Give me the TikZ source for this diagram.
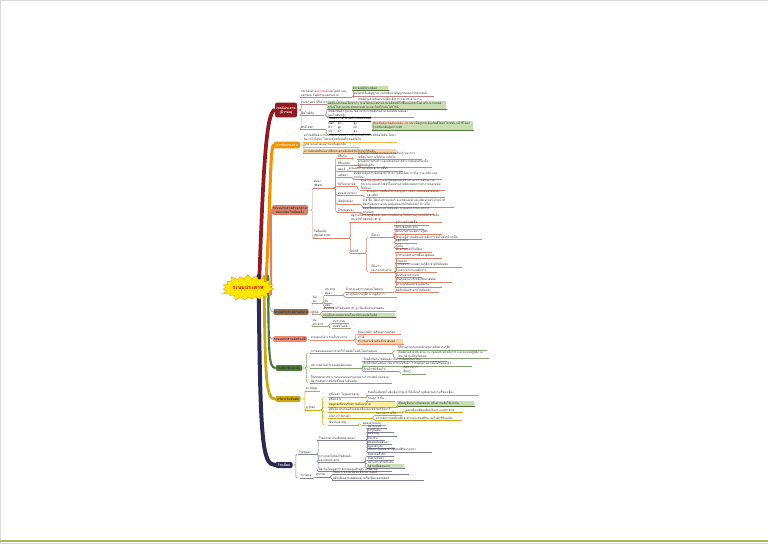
\documentclass[tikz,border=0pt]{standalone}
\usepackage{fontspec}
\setmainfont[Script=Thai]{Loma}
\XeTeXlinebreaklocale "th"
\usetikzlibrary{shapes.symbols}

\definecolor{redd}{HTML}{8E1C22}
\definecolor{orng}{HTML}{F39200}
\definecolor{salm}{HTML}{D9826A}
\definecolor{brwn}{HTML}{8C6D4F}
\definecolor{corl}{HTML}{EE8A76}
\definecolor{grn}{HTML}{4F7A3B}
\definecolor{olv}{HTML}{CDA814}
\definecolor{navy}{HTML}{2B2B52}
\definecolor{hlgreen}{HTML}{C9DDB3}
\definecolor{hlyel}{HTML}{FFF0A0}
\definecolor{hlorg}{HTML}{FAD3A4}
\definecolor{limegr}{HTML}{A9C77F}

\newcommand\leaffont{\fontsize{2.2}{3.0}\selectfont}
\newcommand\topicfont{\fontsize{2.5}{3.0}\selectfont\bfseries}
\newcommand\hubfont{\fontsize{4}{5}\selectfont\bfseries}
\setlength\arrayrulewidth{0.2pt}

\tikzset{
  leaf/.style={anchor=south west, inner sep=0.4pt, font=\leaffont, align=left, text=black!85,
    append after command={(\tikzlastnode.south west) edge[draw=#1, line width=0.3pt] (\tikzlastnode.south east)}},
  tw/.style={text width=#1*0.75pt},
  link/.style={draw=#1, line width=0.3pt, rounded corners=1pt},
  topic/.style={fill=#1, rounded corners=1.5pt, inner sep=0.6pt, font=\topicfont, align=center},
  limb/.style={draw=#1, line cap=round},
}

\begin{document}
\begin{tikzpicture}[x=0.75pt, y=-0.75pt]
  \useasboundingbox (0,0) rectangle (768,543);
  \draw[gray!30] (0,0) rectangle (768,543);
  \draw[limegr!80!olive, line width=0.8pt] (0,541) -- (768,541);

  \coordinate (h) at (248,288);

  % main topics
  \node[topic=redd, text=white, minimum width=16.5pt, minimum height=11pt] (r) at (286,110) {เซลล์ประสาท\\(นิวรอน)};
  \node[topic=orng, text=white, minimum width=19.5pt, minimum height=5pt] (o) at (287,145) {สารสื่อประสาท};
  \node[topic=salm, text=black!80, minimum width=23pt, minimum height=7.5pt] (s) at (290,210) {ระบบประสาทส่วนกลาง/\\สมองและไขสันหลัง};
  \node[topic=brwn, text=black!80, minimum width=24pt, minimum height=4.5pt] (b) at (291,312) {ระบบประสาทส่วนปลาย};
  \node[topic=corl, text=black!80, minimum width=23pt, minimum height=4.5pt] (c) at (290,339) {ระบบประสาทอัตโนมัติ};
  \node[topic=grn, text=black!80, minimum width=20pt, minimum height=4.5pt] (g) at (289,368) {รีเฟล็กซ์แอกชัน};
  \node[topic=olv, text=black!80, minimum width=19pt, minimum height=4.5pt] (y) at (288,399) {อวัยวะรับสัมผัส};
  \node[topic=navy, text=white, minimum width=13pt, minimum height=4.5pt] (n) at (284,465) {โรคที่พบ};

  % limbs from the hub
  \draw[limb=redd, line width=2.8pt] ([xshift=8,yshift=-8]h) .. controls (263,170) and (266,112) .. (r.west);
  \draw[limb=orng, line width=2.3pt] ([xshift=13,yshift=-6]h) .. controls (271,190) and (270,147) .. (o.west);
  \draw[limb=salm, line width=1.8pt] ([xshift=17,yshift=-5]h) .. controls (272,235) and (269,212) .. (s.west);
  \draw[limb=limegr, line width=0.7pt] ([xshift=17,yshift=8]h) .. controls (268,306) and (270,312) .. (b.west);
  \draw[limb=corl, line width=0.7pt] ([xshift=15,yshift=10]h) .. controls (267,330) and (268,339) .. (c.west);
  \draw[limb=grn, line width=1.6pt] ([xshift=15,yshift=9]h) .. controls (269,350) and (268,368) .. (g.west);
  \draw[limb=olv, line width=2.1pt] ([xshift=12,yshift=9]h) .. controls (265,380) and (266,399) .. (y.west);
  \draw[limb=navy, line width=3pt] ([xshift=8,yshift=9]h) .. controls (260,440) and (262,465) .. (n.west);

  \node[starburst, starburst points=19, starburst point height=4pt, fill=yellow!90!orange,
    draw=orange!80!yellow, line width=0.3pt, minimum width=30pt, minimum height=22pt,
    inner sep=0pt, font=\hubfont, text=red!85!black] (hub) at (h) {ระบบประสาท};

  % section 1
  \node[leaf=redd!55, tw=50] (r1) at (300,97) {ประกอบด้วย \textcolor{red}{ตัวเซลล์} เดนไดรต์ และแอกซอน รับส่งกระแสประสาท};
  \node[leaf=grn, tw=35, fill=hlgreen] (r1a) at (352,90) {ตัวเซลล์มีนิวเคลียส};
  \node[leaf=redd!55, tw=80] (r1b) at (352,96) {เดนไดรต์รับสัญญาณ แอกซอนนำสัญญาณออกจากตัวเซลล์};
  \node[leaf=redd!55, tw=53] (r2) at (300,104) {แบ่งตามหน้าที่ได้ 3 ชนิด ดังนี้};
  \node[leaf=redd!55, tw=78] (r2a) at (357,102) {เซลล์ประสาทรับความรู้สึก สั่งการ และประสานงาน};
  \node[leaf=redd!55, tw=22] (r3) at (300,115) {เยื่อไมอีลิน};
  \node[leaf=grn, tw=118, fill=hlgreen] (r3a) at (327,109) {ห่อหุ้มแอกซอนเป็นช่วง ๆ ช่วยให้กระแสประสาทเคลื่อนที่เร็วขึ้นแบบกระโดด สร้างจากเซลล์ชวันน์ในระบบประสาทส่วนปลาย และโอลิโกเดนโดรไซต์};
  \node[leaf=redd!55, tw=85] (r3b) at (327,117) {เซลล์เกลียค้ำจุนและให้อาหารแก่เซลล์ประสาท พบได้ทั้งในสมองและไขสันหลัง};
  \node[leaf=redd!55, tw=23] (r4) at (300,129) {ศักย์ไฟฟ้า};
  \node[anchor=south west, inner sep=0.3pt, font=\leaffont] (r4a) at (328,135) {\begin{tabular}{@{}l@{\,}l@{\,}l@{}}\hline ไอออน & ภายในเซลล์ & ภายนอกเซลล์\\\hline Na+ & ต่ำ & สูง\\ K+ & สูง & ต่ำ\\ Cl- & ต่ำ & สูง\\\hline\end{tabular}};
  \node[leaf=grn, tw=100, fill=hlgreen] (r4b) at (372,130) {\textcolor{red}{ศักย์เยื่อหุ้มเซลล์ขณะพัก -70 mV} เมื่อถูกกระตุ้นเกิดดีโพลาไรเซชัน แล้วรีโพลาไรเซชันกลับสู่สภาวะพัก};
  \foreach \c in {r1,r2,r3,r4}
    \draw[link=redd!55] (r.east) -- ++(4,0) |- (\c.south west);
  \foreach \c in {r1a,r1b}
    \draw[link=redd!55] (r1.south east) -- ++(2,0) |- (\c.south west);
  \draw[link=redd!55] (r2.south east) -- (r2a.south west);
  \foreach \c in {r3a,r3b}
    \draw[link=redd!55] (r3.south east) -- ++(3,0) |- (\c.south west);
  \draw[link=redd!55] (r4.south east) -- ++(2,0) |- (r4a.south west);
  \draw[link=redd!55] (r4a.east) -- ++(2,0) |- (r4b.south west);

  % section 2
  \node[leaf=orng!70, tw=92] (o1) at (303,142) {สารเคมีที่หลั่งจากปลายแอกซอนบริเวณไซแนปส์ เช่น แอซิทิลโคลีน โดพามีน เซโรโทนิน ไปกระตุ้นหรือยับยั้งเซลล์ถัดไป};
  \node[leaf=orng!70, tw=54] (o2) at (303,147) {ถูกทำลายด้วยเอนไซม์หรือดูดกลับ};
  \node[leaf=orng, tw=92, fill=hlorg] (o3) at (303,153) {ความผิดปกติของสารสื่อประสาทสัมพันธ์กับโรคพาร์กินสัน};
  \foreach \c in {o1,o2,o3}
    \draw[link=orng!70] (o.east) -- ++(4,0) |- (\c.south west);

  % section 3
  \node[leaf=salm, tw=19] (s1) at (313,188) {สมอง\\(Brain)};
  \node[leaf=salm, tw=13] (s1a) at (337,158) {ซีรีบรัม};
  \node[leaf=salm, tw=63] (s1a1) at (357,159) {ควบคุมความคิด ความจำ การเรียนรู้ และการเคลื่อนไหวภายใต้อำนาจจิตใจ};
  \node[leaf=salm, tw=21] (s1b) at (337,165) {ซีรีเบลลัม};
  \node[leaf=salm, tw=73] (s1b1) at (357,167) {ควบคุมการทรงตัว และประสานการทำงานของกล้ามเนื้อให้สัมพันธ์กัน};
  \node[leaf=salm, tw=9] (s1c) at (337,171) {พอนส์};
  \node[leaf=salm, tw=53] (s1c1) at (348,171) {ควบคุมการหายใจและการเคี้ยว};
  \node[leaf=salm, tw=13] (s1d) at (337,177) {เมดัลลา};
  \node[leaf=salm, tw=87] (s1d1) at (353,179) {ศูนย์ควบคุมการเต้นของหัวใจ ความดันเลือด การไอ จาม กลืน และอาเจียน};
  \node[leaf=salm, tw=18] (s1e) at (337,186) {ไฮโพทาลามัส};
  \node[leaf=salm, tw=83] (s1e1) at (360,190) {\textcolor{red}{ศูนย์รักษาดุลยภาพ} ควบคุมอุณหภูมิร่างกาย ความหิว ความกระหาย และสร้างฮอร์โมนประสาทที่ควบคุมการทำงานของต่อมใต้สมอง};
  \node[leaf=salm, tw=24] (s1f) at (337,195) {สมองส่วนกลาง};
  \node[leaf=salm, tw=77] (s1f1) at (366,197) {ควบคุมการเคลื่อนไหวของลูกตา และการตอบสนองต่อแสงและเสียง};
  \node[leaf=salm, tw=22] (s1g) at (337,204) {เยื่อหุ้มสมอง};
  \node[leaf=salm, tw=90] (s1g1) at (362,207) {มี 3 ชั้น ได้แก่ ดูราเมเทอร์ อะแรคนอยด์ และเพียเมเทอร์ ทำหน้าที่ป้องกันอันตรายและห่อหุ้มสมองกับไขสันหลังไว้ภายใน};
  \node[leaf=salm, tw=22] (s1h) at (337,212) {น้ำหล่อสมอง};
  \node[leaf=salm, tw=70] (s1h1) at (362,214) {หล่อเลี้ยงสมองและไขสันหลัง ช่วยลดแรงกระแทกจากภายนอก};
  \node[leaf=salm, tw=34] (s2) at (313,238) {ไขสันหลัง\\(Spinal cord)};
  \node[leaf=salm, tw=90] (s2a) at (350,222) {อยู่ภายในกระดูกสันหลัง ต่อจากเมดัลลาลงไปถึงกระดูกเอวข้อที่ 2 มีเส้นประสาทไขสันหลัง 31 คู่};
  \node[leaf=salm, tw=13] (s2b) at (350,253) {หน้าที่};
  \node[leaf=salm, tw=22] (s2b1) at (370,237) {เนื้อเทา};
  \node[leaf=salm, tw=32] (s2b1a) at (395,225) {รูปร่างคล้ายผีเสื้อ};
  \node[leaf=salm, tw=27] (s2b1b) at (395,229) {มีตัวเซลล์ประสาท};
  \node[leaf=salm, tw=45] (s2b1c) at (395,234) {ปีกบนรับกระแสความรู้สึก};
  \node[leaf=salm, tw=85] (s2b1d) at (395,239) {ปีกล่างมีตัวเซลล์ประสาทสั่งการ ส่งไปยังกล้ามเนื้อ};
  \node[leaf=salm, tw=20] (s2b1e) at (395,243) {อยู่ด้านใน};
  \node[leaf=salm, tw=11] (s2b1f) at (395,248) {ชั้นใน};
  \node[leaf=salm, tw=23] (s2b2) at (370,272) {เนื้อขาว\\และรากประสาท};
  \node[leaf=salm, tw=35] (s2b2a) at (395,252) {มีแอกซอนหุ้มไมอีลิน};
  \node[leaf=salm, tw=45] (s2b2b) at (395,258) {นำกระแสประสาทขึ้นลงสู่สมอง};
  \node[leaf=salm, tw=12] (s2b2c) at (395,263) {ด้านนอก};
  \node[leaf=salm, tw=65] (s2b2d) at (395,267) {รากบนนำกระแสความรู้สึกเข้าสู่ไขสันหลัง};
  \node[leaf=salm, tw=40] (s2b2e) at (395,272) {รากล่างนำกระแสสั่งการ};
  \node[leaf=salm, tw=25] (s2b2f) at (395,277) {ปมประสาทรากบน};
  \node[leaf=salm, tw=55] (s2b2g) at (395,282) {เป็นศูนย์กลางรีเฟล็กซ์หลายชนิด};
  \node[leaf=salm, tw=45] (s2b2h) at (395,287) {มีกระดูกสันหลังช่วยป้องกัน};
  \node[leaf=salm, tw=42] (s2b2i) at (395,292) {ต่อกับเส้นประสาทไขสันหลัง};
  \foreach \c in {s1,s2}
    \draw[link=salm] (s.east) -- ++(4,0) |- (\c.south west);
  \foreach \c in {s1a,s1b,s1c,s1d,s1e,s1f,s1g,s1h}
    \draw[link=salm] (s1.south east) -- ++(2,0) |- (\c.south west);
  \foreach \p in {s1a,s1b,s1c,s1d,s1e,s1f,s1g,s1h}
    \draw[link=salm] (\p.south east) -- ++(1,0) |- (\p1.south west);
  \foreach \c in {s2a,s2b}
    \draw[link=salm] (s2.south east) -- ++(2,0) |- (\c.south west);
  \foreach \c in {s2b1,s2b2}
    \draw[link=salm] (s2b.south east) -- ++(2,0) |- (\c.south west);
  \foreach \c in {a,b,c,d,e,f}
    \draw[link=salm] (s2b1.south east) -- ++(1.5,0) |- (s2b1\c.south west);
  \foreach \c in {a,b,c,d,e,f,g,h,i}
    \draw[link=salm] (s2b2.south east) -- ++(1.5,0) |- (s2b2\c.south west);

  % section 4
  \node[leaf=brwn!70, tw=8] (b1) at (312,303) {รับ/\\ส่ง};
  \node[leaf=brwn!70, tw=17] (b1a) at (324,295) {ประสาทสมอง};
  \node[leaf=brwn!70, tw=47] (b1a1) at (345,292) {มี 12 คู่ ออกจากสมองโดยตรง};
  \node[leaf=brwn!70, tw=50] (b1a2) at (345,297) {บางคู่รับความรู้สึก บางคู่สั่งการ};
  \node[leaf=brwn!70, tw=6] (b1b) at (324,303) {รับ};
  \node[leaf=brwn!70, tw=8] (b1c) at (324,307) {ผสม};
  \node[leaf=brwn!70, tw=7] (b2) at (312,314) {ชนิด};
  \node[leaf=brwn!70, tw=72] (b2a) at (322,311) {เส้นประสาทไขสันหลัง 31 คู่ เป็นเส้นประสาทผสม};
  \node[leaf=grn, tw=72, fill=hlgreen] (b2b) at (322,317) {แบ่งเป็นระบบประสาทโซมาติกและอัตโนมัติ};
  \node[leaf=brwn!70, tw=14] (b3) at (312,326) {ปมประสาท};
  \node[leaf=brwn!70, tw=15] (b3a) at (332,323) {ปมรากบน};
  \node[leaf=brwn!70, tw=17] (b3b) at (332,328) {ปมอัตโนมัติ};
  \foreach \c in {b1,b2,b3}
    \draw[link=brwn!70] (b.east) -- ++(4,0) |- (\c.south west);
  \foreach \c in {b1a,b1b,b1c}
    \draw[link=brwn!70] (b1.south east) -- ++(2,0) |- (\c.south west);
  \foreach \c in {b1a1,b1a2}
    \draw[link=brwn!70] (b1a.south east) -- ++(1.5,0) |- (\c.south west);
  \foreach \c in {b2a,b2b}
    \draw[link=brwn!70] (b2.south east) -- ++(1,0) |- (\c.south west);
  \foreach \c in {b3a,b3b}
    \draw[link=brwn!70] (b3.south east) -- ++(2,0) |- (\c.south west);

  % section 5
  \node[leaf=corl, tw=42] (c1) at (310,340) {ควบคุมอวัยวะภายในร่างกาย};
  \node[leaf=corl, tw=42] (c1a) at (357,334) {ซิมพาเทติก เตรียมความพร้อม};
  \node[leaf=corl, tw=10] (c1b) at (357,339) {ลำไส้};
  \node[leaf=corl, tw=45, fill=hlorg] (c1c) at (357,344) {ทำงานตรงข้ามกันรักษาสมดุล};
  \draw[link=corl] (c.east) -- (c1.south west);
  \foreach \c in {c1a,c1b,c1c}
    \draw[link=corl] (c1.south east) -- ++(2,0) |- (\c.south west);

  % section 6
  \node[leaf=grn!70, tw=80] (g1) at (310,353) {การตอบสนองอย่างรวดเร็วโดยอัตโนมัติ ไม่ผ่านสมอง};
  \node[leaf=grn!70, tw=88] (g1a) at (397,350) {วิถีประสาทประกอบด้วยหน่วยรับความรู้สึก};
  \node[leaf=grn!70, tw=90] (g1b) at (397,358) {เซลล์ประสาทประสานงาน เซลล์ประสาทสั่งการ และหน่วยปฏิบัติงาน เช่น กล้ามเนื้อหรือต่อม};
  \node[leaf=grn!70, tw=50] (g2) at (310,368) {ประเภทตามตำแหน่งศูนย์ควบคุม};
  \node[leaf=grn!70, tw=82] (g2a) at (363,361) {รีเฟล็กซ์ผ่านไขสันหลัง เช่น ชักมือหนีของร้อน};
  \node[leaf=grn!70, tw=107] (g2b) at (363,366) {รีเฟล็กซ์ผ่านสมอง เช่น การกะพริบตา การหดรูม่านตาเมื่อได้รับแสงจ้า};
  \node[leaf=grn!70, tw=34] (g2c) at (363,371) {รีเฟล็กซ์มีเงื่อนไข};
  \node[leaf=grn!70, tw=22] (g2c1) at (402,374) {เกิดจากการ\\เรียนรู้};
  \node[leaf=grn!70, tw=80] (g3) at (310,383) {ใช้ทดสอบการทำงานของระบบประสาททางการแพทย์ และช่วยป้องกันอันตรายที่เกิดขึ้นอย่างฉับพลัน};
  \foreach \c in {g1,g2,g3}
    \draw[link=grn!70] (g.east) -- ++(4,0) |- (\c.south west);
  \foreach \c in {g1a,g1b}
    \draw[link=grn!70] (g1.south east) -- ++(2,0) |- (\c.south west);
  \foreach \c in {g2a,g2b,g2c}
    \draw[link=grn!70] (g2.south east) -- ++(1.5,0) |- (\c.south west);
  \draw[link=grn!70] (g2c.south east) -- ++(1.5,0) |- (g2c1.south west);

  % section 7
  \node[leaf=olv, tw=13] (y1) at (305,391) {ตา (Eye)};
  \node[leaf=olv, tw=13] (y2) at (305,410) {หู (Ear)};
  \node[leaf=olv, tw=37] (y2a) at (328,397) {หูชั้นนอก ใบหูและช่องหู};
  \node[leaf=olv, tw=110] (y2a1) at (367,395) {รับคลื่นเสียงส่งไปยังเยื่อแก้วหู ทำให้เยื่อแก้วหูสั่นตามความถี่ของเสียง};
  \node[leaf=olv, tw=37] (y2b) at (328,402) {หูชั้นกลาง};
  \node[leaf=olv, tw=26] (y2b1) at (367,401) {กระดูก 3 ชิ้น};
  \node[leaf=olv, tw=67, fill=hlyel] (y2c) at (328,407) {ท่อยูสเตเชียนปรับความดันอากาศ};
  \node[leaf=grn, tw=76, fill=hlgreen] (y2c1) at (397,406) {เชื่อมหูชั้นกลางกับคอหอย ปรับความดันให้เท่ากัน};
  \node[leaf=olv, tw=74] (y2d) at (328,412) {หูชั้นใน ประกอบด้วยคอเคลียและเซมิเซอร์คิวลาร์};
  \node[leaf=olv, tw=56] (y2d1) at (405,412) {คอเคลียเปลี่ยนเสียงเป็นกระแสประสาท};
  \node[leaf=olv, tw=42] (y2e) at (328,418) {อวัยวะการทรงตัว};
  \node[leaf=olv, tw=25] (y2e1) at (375,415) {ของเหลวภายใน};
  \node[leaf=olv, tw=85] (y2e2) at (375,420) {ตรวจจับการเคลื่อนที่และตำแหน่งของศีรษะ ส่งไปยังซีรีเบลลัม};
  \node[leaf=olv, tw=29] (y2f) at (328,425) {เส้นประสาทหู};
  \node[leaf=olv, tw=22] (y2f1) at (362,425) {สมองส่วนขมับ};
  \foreach \c in {y1,y2}
    \draw[link=olv] (y.east) -- ++(4,0) |- (\c.south west);
  \foreach \c in {y2a,y2b,y2c,y2d,y2e,y2f}
    \draw[link=olv] (y2.south east) -- ++(3,0) |- (\c.south west);
  \foreach \p in {y2a,y2b,y2c,y2d,y2f}
    \draw[link=olv] (\p.south east) -- ++(1,0) |- (\p1.south west);
  \foreach \c in {y2e1,y2e2}
    \draw[link=olv] (y2e.south east) -- ++(2,0) |- (\c.south west);

  % section 8
  \node[leaf=navy!60, tw=17] (n1) at (298,454) {โรคสมอง};
  \node[leaf=navy!60, tw=47] (n1a) at (318,440) {โรคจากความเสื่อมของสมอง};
  \node[leaf=navy!60, tw=18] (n1a1) at (367,428) {อัลไซเมอร์};
  \node[leaf=navy!60, tw=25] (n1a2) at (367,432) {พาร์กินสัน};
  \node[leaf=navy!60, tw=28] (n1a3) at (367,436) {ลมบ้าหมู};
  \node[leaf=navy!60, tw=16] (n1a4) at (367,440) {ไมเกรน};
  \node[leaf=navy!60, tw=23] (n1a5) at (367,444) {หลอดเลือดสมอง};
  \node[leaf=navy!60, tw=26] (n1a6) at (367,448) {สมองอักเสบ};
  \node[leaf=navy!60, tw=63] (n1a7) at (367,452) {เนื้องอกในสมองทำให้ปวดศีรษะรุนแรง};
  \node[leaf=navy!60, tw=45] (n1b) at (318,462) {การบาดเจ็บของไขสันหลัง\\และเส้นประสาท};
  \node[leaf=navy!60, tw=25] (n1b1) at (367,456) {อัมพาตครึ่งซีก};
  \node[leaf=navy!60, tw=25] (n1b2) at (367,460) {อัมพาตทั้งตัว};
  \node[leaf=navy!60, tw=28] (n1b3) at (367,464) {ปลายประสาทอักเสบ};
  \node[leaf=navy!60, tw=36, fill=hlgreen] (n1b4) at (367,468) {กล้ามเนื้ออ่อนแรง};
  \node[leaf=navy!60, tw=72] (n1c) at (318,471) {ป้องกันโดยออกกำลังกายและพักผ่อนให้เพียงพอ};
  \node[leaf=navy!60, tw=11] (n2) at (300,478) {การดูแล};
  \node[leaf=navy!60, tw=14] (n2a) at (315,477) {สุขภาพ};
  \node[leaf=navy!60, tw=75] (n2a1) at (332,474) {ใช้หมวกนิรภัยเมื่อขับขี่จักรยานยนต์};
  \node[leaf=navy!60, tw=90] (n2a2) at (332,480) {หลีกเลี่ยงสารเสพติดและเครื่องดื่มแอลกอฮอล์};
  \foreach \c in {n1,n2}
    \draw[link=navy!60] (n.east) -- ++(3,0) |- (\c.south west);
  \foreach \c in {n1a,n1b,n1c}
    \draw[link=navy!60] (n1.south east) -- ++(1.5,0) |- (\c.south west);
  \foreach \c in {1,...,7}
    \draw[link=navy!60] (n1a.south east) -- ++(1,0) |- (n1a\c.south west);
  \foreach \c in {1,...,4}
    \draw[link=navy!60] (n1b.south east) -- ++(1,0) |- (n1b\c.south west);
  \draw[link=navy!60] (n2.south east) -- (n2a.south west);
  \foreach \c in {n2a1,n2a2}
    \draw[link=navy!60] (n2a.south east) -- ++(1,0) |- (\c.south west);
\end{tikzpicture}
\end{document}
